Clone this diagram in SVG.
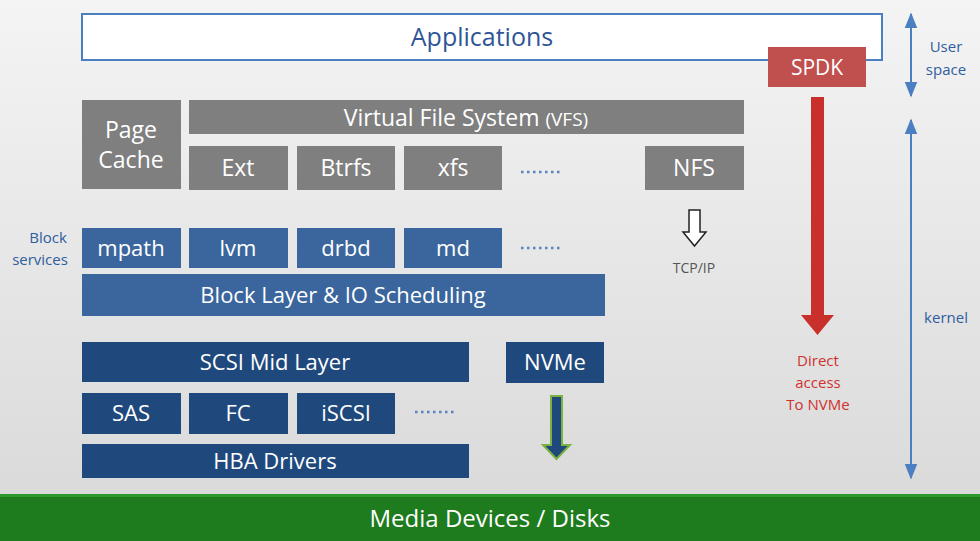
<svg xmlns="http://www.w3.org/2000/svg" width="980" height="541" viewBox="0 0 980 541">
<defs>
<linearGradient id="bg" x1="0" y1="0" x2="0" y2="1"><stop offset="0" stop-color="#f4f4f4"/><stop offset="1" stop-color="#d8d8d8"/></linearGradient>
<marker id="ab" viewBox="0 0 10 10" refX="9" refY="5" markerWidth="8" markerHeight="8" orient="auto-start-reverse"><path d="M0,1 L10,5 L0,9 z" fill="#4a7fc1"/></marker>
</defs>
<style>
text{font-family:"Open Sans","Noto Sans",sans-serif;text-anchor:middle}
.g rect{fill:#7f7f7f}
.g text{fill:#fff;font-size:23px}
.m rect{fill:#3b669d}
.m text{fill:#fff;font-size:22px}
.d rect{fill:#1f497d}
.d text{fill:#fff;font-size:22px}
.dots{stroke:#5a84c0;stroke-width:2.5;stroke-dasharray:2.5 3.5}
.side{fill:#2f5e9e;font-size:15px}
</style>
<rect width="980" height="541" fill="url(#bg)"/>
<g id="applications"><rect x="82" y="14" width="800" height="46" fill="#fff" stroke="#4a7fc1" stroke-width="2"/><text x="482" y="46" font-size="25" fill="#2e5597">Applications</text></g>
<g id="spdk"><rect x="768" y="47" width="98" height="40" fill="#c0504d"/><text x="817" y="75" font-size="21" fill="#fff">SPDK</text></g>
<g id="pagecache" class="g"><rect x="82" y="100" width="99" height="89"/><text x="131" y="138">Page</text><text x="131" y="168">Cache</text></g>
<g id="vfs" class="g"><rect x="189" y="100" width="555" height="34"/><text x="466" y="126">Virtual File System <tspan font-size="19">(VFS)</tspan></text></g>
<g id="ext" class="g"><rect x="189" y="146" width="99" height="44"/><text x="238" y="176">Ext</text></g>
<g id="btrfs" class="g"><rect x="297" y="146" width="98" height="44"/><text x="346" y="176">Btrfs</text></g>
<g id="xfs" class="g"><rect x="404" y="146" width="98" height="44"/><text x="453" y="176">xfs</text></g>
<g id="nfs" class="g"><rect x="645" y="146" width="99" height="44"/><text x="694" y="176">NFS</text></g>
<g id="blockservices"><text class="side" x="48" y="243">Block</text><text class="side" x="40" y="265">services</text></g>
<g id="mpath" class="m"><rect x="82" y="228" width="99" height="40"/><text x="131" y="256">mpath</text></g>
<g id="lvm" class="m"><rect x="189" y="228" width="99" height="40"/><text x="238" y="256">lvm</text></g>
<g id="drbd" class="m"><rect x="297" y="228" width="98" height="40"/><text x="346" y="256">drbd</text></g>
<g id="md" class="m"><rect x="404" y="228" width="98" height="40"/><text x="453" y="256">md</text></g>
<g id="blocklayer" class="m"><rect x="82" y="274" width="523" height="42"/><text x="343" y="303">Block Layer &amp; IO Scheduling</text></g>
<g id="scsimid" class="d"><rect x="82" y="342" width="387" height="40"/><text x="275" y="370">SCSI Mid Layer</text></g>
<g id="nvme" class="d"><rect x="506" y="342" width="98" height="41"/><text x="555" y="370">NVMe</text></g>
<g id="sas" class="d"><rect x="82" y="393" width="99" height="41"/><text x="131" y="421">SAS</text></g>
<g id="fc" class="d"><rect x="189" y="393" width="99" height="41"/><text x="238" y="421">FC</text></g>
<g id="iscsi" class="d"><rect x="297" y="393" width="98" height="41"/><text x="346" y="421">iSCSI</text></g>
<g id="hba" class="d"><rect x="82" y="444" width="387" height="34"/><text x="275" y="469">HBA Drivers</text></g>
<g id="media"><rect x="0" y="494" width="980" height="47" fill="#1e7b1e"/><rect x="0" y="494" width="980" height="3" fill="#2d9a2d"/><text x="490" y="527" font-size="24" fill="#fff">Media Devices / Disks</text></g>
<g id="labels">
<text x="694" y="273" font-size="14" fill="#555">TCP/IP</text>
<text x="946" y="52" class="side">User</text><text x="946" y="75" class="side">space</text>
<text x="946" y="323" class="side">kernel</text>
<text x="818" y="366" font-size="15" fill="#d0312d">Direct</text>
<text x="818" y="388" font-size="15" fill="#d0312d">access</text>
<text x="818" y="410" font-size="15" fill="#d0312d">To NVMe</text>
</g>
<g id="connectors">
<line class="dots" x1="521" y1="172" x2="563" y2="172"/>
<line class="dots" x1="521" y1="248" x2="563" y2="248"/>
<line class="dots" x1="415" y1="412" x2="456" y2="412"/>
<path d="M689,210 h11 v22 h6 l-11.5,14 l-11.5,-14 h6 z" fill="#fff" stroke="#222" stroke-width="1.5"/>
<path d="M551,396 h11 v49 h8 l-13.5,14 l-13.5,-14 h8 z" fill="#1f497d" stroke="#7bb13d" stroke-width="2"/>
<path d="M811,97 h13 v218 h10 l-16.5,20 l-16.5,-20 h10 z" fill="#c9302c"/>
<line x1="911" y1="14" x2="911" y2="96" stroke="#4a7fc1" stroke-width="2" marker-start="url(#ab)" marker-end="url(#ab)"/>
<line x1="911" y1="120" x2="911" y2="478" stroke="#4a7fc1" stroke-width="2" marker-start="url(#ab)" marker-end="url(#ab)"/>
</g>
</svg>
